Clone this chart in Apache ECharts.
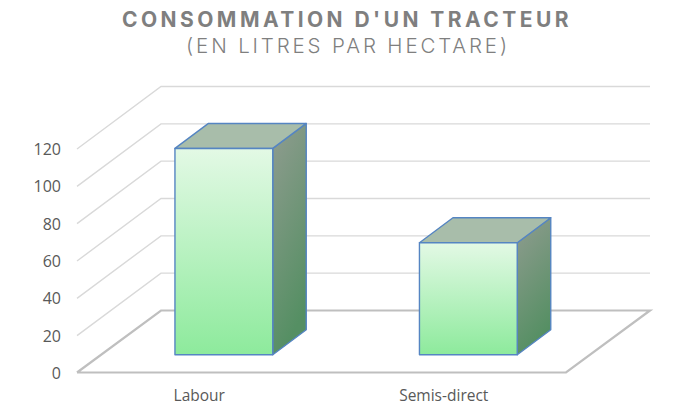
<!DOCTYPE html>
<html>
<head>
<meta charset="utf-8">
<style>
html,body{margin:0;padding:0;background:#fff}
#c{width:689px;height:415px}
</style>
<script src="https://cdn.jsdelivr.net/npm/echarts@6/dist/echarts.min.js"></script>
</head>
<body>
<div id="c"></div>
<script>
const categories = ['Labour', 'Semis-direct'];
const litres = [110.5, 60];
const gridValues = [0, 20, 40, 60, 80, 100, 120];
const titleText = "CONSOMMATION D'UN TRACTEUR";
const subtitleText = '(EN LITRES PAR HECTARE)';

const DX = 84, DY = 62.5;      // floor depth of the 3D box
const BAR_OFF_X = 24.6, BAR_OFF_Y = 18.3, BAR_DX = 33.5, BAR_DY = 25;
const EDGE = '#5585c2';

const chart = echarts.init(document.getElementById('c'), null, {renderer: 'svg'});

function wallItem(params, api) {
  const cs = params.coordSys;
  const v = api.value(0);
  const y = api.coord([0, v])[1];
  const x0 = cs.x, x1 = cs.x + cs.width;
  const isFloor = v === 0;
  const style = {fill: 'none', stroke: isFloor ? '#bfbfbf' : '#d9d9d9', lineWidth: isFloor ? 2.2 : 1.4};
  const pts = isFloor
    ? [[x0, y - 0.5], [x1, y - 0.5], [x1 + DX, y - DY], [x0 + DX, y - DY], [x0, y - 0.5]]
    : [[x0, y], [x0 + DX, y - DY], [x1 + DX, y - DY]];
  return {type: 'polyline', shape: {points: pts}, style: style, silent: true};
}

function barItem(params, api) {
  const c = api.coord([api.value(0), api.value(1)]);
  const base = api.coord([api.value(0), 0]);
  const w = api.size([1, 0])[0] * 0.4;
  const l = c[0] - w / 2 + BAR_OFF_X, r = l + w;
  const t = c[1] - BAR_OFF_Y, b = base[1] - BAR_OFF_Y;
  const stroke = {stroke: EDGE, lineWidth: 1.4, lineJoin: 'round'};
  return {
    type: 'group',
    children: [
      {type: 'polygon', shape: {points: [[r, t], [r + BAR_DX, t - BAR_DY], [r + BAR_DX, b - BAR_DY], [r, b]]},
        style: Object.assign({fill: new echarts.graphic.LinearGradient(0, 0, 0.3, 1, [
          {offset: 0, color: '#909c90'}, {offset: 1, color: '#558f63'}])}, stroke)},
      {type: 'polygon', shape: {points: [[l, t], [l + BAR_DX, t - BAR_DY], [r + BAR_DX, t - BAR_DY], [r, t]]},
        style: Object.assign({fill: '#a8bdaa'}, stroke)},
      {type: 'rect', shape: {x: l, y: t, width: w, height: b - t},
        style: Object.assign({fill: new echarts.graphic.LinearGradient(0, 0, 0, 1, [
          {offset: 0, color: '#e3f9e5'}, {offset: 1, color: '#8dea9c'}])}, stroke)}
    ]
  };
}

chart.setOption({
  animation: false,
  backgroundColor: '#fff',
  title: [
    {text: titleText, left: 342, top: 4, textAlign: 'center',
      textStyle: {fontFamily: 'Inter', fontSize: 21, fontWeight: 'bold', color: '#7f7f7f'}},
    {text: subtitleText, left: 343, top: 30, textAlign: 'center',
      textStyle: {fontFamily: 'Inter', fontSize: 20.5, fontWeight: 300, color: '#7f7f7f'}}
  ],
  grid: {left: 77, top: 149, width: 489, height: 224},
  xAxis: {
    type: 'category', data: categories,
    axisLine: {show: false}, axisTick: {show: false}, splitLine: {show: false},
    axisLabel: {fontFamily: 'Open Sans', fontSize: 15.5, color: '#595959', margin: 14}
  },
  yAxis: {
    type: 'value', min: 0, max: 120, interval: 20,
    axisLine: {show: false}, axisTick: {show: false}, splitLine: {show: false},
    axisLabel: {fontFamily: 'Open Sans', fontSize: 16, color: '#595959', margin: 16, padding: [4, 0, 0, 0]}
  },
  series: [
    {type: 'custom', clip: false, silent: true, renderItem: wallItem,
      encode: {y: 0}, data: gridValues.map(v => [v]), z: 1},
    {type: 'custom', clip: false, renderItem: barItem,
      encode: {x: 0, y: 1}, data: litres.map((v, i) => [i, v]), z: 2}
  ]
});

// The library has no letter-spacing option: apply it to the title texts it drew.
function spaceTitles() {
  document.querySelectorAll('#c svg text').forEach(function (t) {
    if (t.textContent === titleText) t.style.letterSpacing = '3.45px';
    if (t.textContent === subtitleText) t.style.letterSpacing = '2.85px';
  });
}
chart.getZr().flush();
spaceTitles();
chart.on('finished', spaceTitles);
</script>
</body>
</html>
